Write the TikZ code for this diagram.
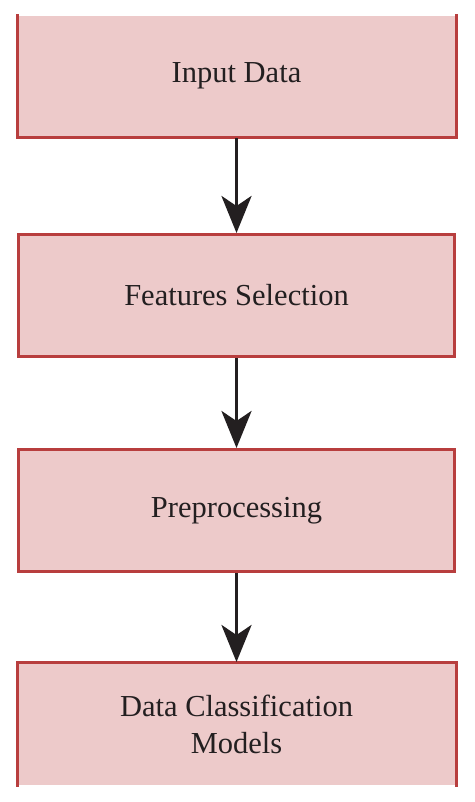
\documentclass[tikz,border=0pt]{standalone}
\usepackage{fontspec}
\setmainfont{Liberation Serif}
\usetikzlibrary{arrows.meta}
\definecolor{boxfill}{RGB}{237,202,202}
\definecolor{boxline}{RGB}{184,62,62}
\definecolor{ink}{RGB}{35,31,32}
\begin{document}
\begin{tikzpicture}[x=1pt,y=-1pt,
  stepbox/.style={fill=boxfill, draw=boxline, line width=3pt, inner sep=0pt,
    minimum width=436pt, text=ink, align=center,
    font=\fontsize{30.5}{37}\selectfont},
  openbox/.style={stepbox, draw=none},
  edge/.style={draw=boxline, line width=3pt},
  arr/.style={draw=ink, line width=3.5pt,
    -{Stealth[length=37pt, width=30pt, inset=10pt]}}]
\fill[white] (0,0) rectangle (474,802);
\useasboundingbox (0,0) rectangle (474,802);
\node[openbox, minimum height=120.5pt] (b1) at (236.5,76.25) {Input Data};
\draw[edge] (b1.north west) -- (b1.south west) -- (b1.south east) -- (b1.north east);
\node[stepbox, minimum height=122pt] (b2) at (236.5,295.5) {Features Selection};
\node[stepbox, minimum height=122pt] (b3) at (236.5,510.5) {Preprocessing};
\node[openbox, minimum height=121.5pt] (b4) at (236.5,724.25) {Data Classification\\Models};
\draw[edge] (b4.south west) -- (b4.north west) -- (b4.north east) -- (b4.south east);
\draw[arr] (b1.south) -- (b2.north);
\draw[arr] (b2.south) -- (b3.north);
\draw[arr] (b3.south) -- (b4.north);
\end{tikzpicture}
\end{document}
